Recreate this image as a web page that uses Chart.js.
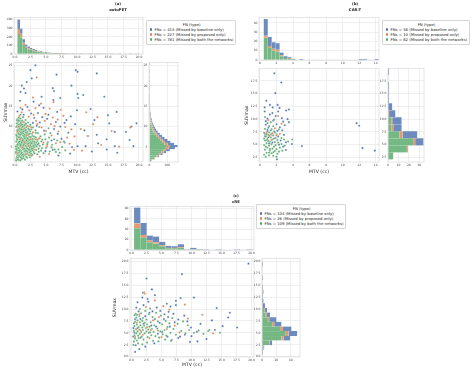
<!DOCTYPE html>
<html lang="en">
<head>
<meta charset="UTF-8">
<title>FN analysis</title>
<script src="https://cdn.jsdelivr.net/npm/chart.js"></script>
<style>
  body { margin: 0; background: #fff; width: 474px; height: 368px; overflow: hidden; position: relative; font-family: "DejaVu Sans", sans-serif; }
  canvas { position: absolute; }
  .ttl { position: absolute; transform: translateX(-50%); font-size: 3.8px; font-weight: bold; color: #222; text-align: center; line-height: 5.5px; white-space: nowrap; }
  .legend { position: absolute; background: #fff; border: 0.5px solid #d6d6d6; border-radius: 1px; font-size: 3.8px; line-height: 5px; color: #222; padding: 1px 2px 1.5px 3px; white-space: nowrap; }
  .legend .lt { text-align: center; }
  .legend .dot { display: inline-block; width: 2.4px; height: 2.4px; border-radius: 50%; margin-right: 2.2px; vertical-align: 0.3px; }
</style>
</head>
<body>
<script>
  // ---- data ----
  const legendA = ['FNs = 413 (Missed by baseline only)', 'FNs = 227 (Missed by proposed only)', 'FNs = 781 (Missed by both the networks)'];
  const legendB = ['FNs = 56 (Missed by baseline only)', 'FNs = 10 (Missed by proposed only)', 'FNs = 62 (Missed by both the networks)'];
  const legendC = ['FNs = 104 (Missed by baseline only)', 'FNs = 26 (Missed by proposed only)', 'FNs = 109 (Missed by both the networks)'];

  // tick labels
  const aXTicks = [0, 2.5, 5, 7.5, 10, 12.5, 15, 17.5, 20];
  const aYTicks = [5, 10, 15, 20, 25];
  const aTopTicks = [0, 100, 200, 300, 400];
  const aSideTicks = [0, 100];
  const bXTicks = [0, 2, 4, 6, 8, 10, 12, 14];
  const bYTicks = [2.5, 5, 7.5, 10, 12.5, 15, 17.5];
  const bTopTicks = [0, 10, 20, 30, 40];
  const bSideTicks = [0, 10, 20, 30];
  const cXTicks = [0, 2.5, 5, 7.5, 10, 12.5, 15, 17.5, 20];
  const cYTicks = [0, 2.5, 5, 7.5, 10, 12.5, 15, 17.5, 20];
  const cTopTicks = [0, 20, 40, 60, 80];
  const cSideTicks = [0, 20, 40];

  // (a) autoPET: histogram counts (stack order green, orange, blue)
  const aTopStart = 0.4, aTopWidth = 0.4;
  const aTopGreen = [230,190,105,70,55,45,35,28,24,19, 15,12,9,7,5,4,3,2,1,1];
  const aTopOrange = [60,45,25,15,12,10,8,7,6,5, 4,3,3,2,2,1,1,1,1,0, 1,0,1,0,0,1,0,0,0,1, 0,0,1,0,0,0,1,0,0,0, 0,0,0,0,0,1,0,0,0,0];
  const aTopBlue = [110,60,40,25,20,15,13,10,8,7, 6,5,4,3,3,2,2,2,1,1, 1,1,1,1,1,1,1,1,1,1, 1,1,1,1,1,1,0,1,1,0, 1,1,0,1,0,1,0,1,1,0];
  const aSideStart = 1.5, aSideWidth = 0.5;
  const aSideGreen = [8,25,40,55,68,80,92,98,85,72, 60,48,38,30,22,16,12,9,6,4, 3,2,1,1,0];
  const aSideOrange = [1,4,7,9,11,13,16,18,17,15, 14,13,12,11,10,9,8,7,6,5, 4,3,3,2,2, 1,1,1,0,1, 0,0,0,0,1, 0,0,0,0,1];
  const aSideBlue = [1,3,6,10,15,22,36,44,38,32, 28,24,20,17,14,12,10,8,7,6, 5,4,3,3,2, 2,2,1,1,1, 1,1,1,2,0, 1,1,0,1,1, 0,1,0,1,1, 0,0,1,1];

  const aGreen = [[0.2,2.1],[0.3,2.6],[0.5,2.3],[0.4,3.0],[0.2,3.4],[0.6,3.1],[0.8,2.7],[0.3,3.9],[0.5,4.2],[0.7,3.7],
    [0.9,3.3],[1.1,2.9],[0.2,4.6],[0.4,5.0],[0.6,4.7],[0.8,4.3],[1.0,4.0],[1.2,3.6],[1.4,3.2],[0.3,5.5],
    [0.5,5.9],[0.7,5.4],[0.9,5.1],[1.1,4.7],[1.3,4.4],[1.5,4.0],[1.7,3.5],[0.2,6.3],[0.4,6.7],[0.6,6.2],
    [0.8,5.8],[1.0,5.6],[1.2,5.3],[1.4,5.0],[1.6,4.6],[1.8,4.2],[2.0,3.8],[0.3,7.2],[0.5,7.6],[0.7,7.0],
    [0.9,6.6],[1.1,6.3],[1.3,6.0],[1.5,5.7],[1.7,5.3],[1.9,5.0],[2.1,4.5],[2.3,4.1],[0.2,8.0],[0.4,8.5],
    [0.6,8.1],[0.8,7.7],[1.0,7.3],[1.2,7.0],[1.4,6.7],[1.6,6.4],[1.8,6.0],[2.0,5.6],[2.2,5.2],[2.4,4.8],
    [2.6,4.3],[0.3,9.0],[0.5,9.4],[0.7,8.9],[0.9,8.5],[1.1,8.1],[1.3,7.8],[1.5,7.4],[1.7,7.1],[1.9,6.8],
    [2.1,6.4],[2.3,6.0],[2.5,5.6],[2.7,5.1],[2.9,4.7],[0.2,9.9],[0.4,10.3],[0.6,9.8],[0.8,9.4],[1.0,9.0],
    [1.2,8.7],[1.4,8.3],[1.6,8.0],[1.8,7.6],[2.0,7.3],[2.2,6.9],[2.4,6.6],[2.6,6.2],[2.8,5.8],[3.0,5.4],
    [3.2,5.0],[0.3,10.8],[0.5,11.2],[0.7,10.6],[0.9,10.2],[1.1,9.7],[1.3,9.3],[1.5,8.9],[1.7,8.6],[1.9,8.2],
    [2.1,7.9],[2.3,7.5],[2.5,7.2],[2.7,6.8],[2.9,6.4],[3.1,6.0],[3.3,5.6],[3.5,5.2],[0.4,11.8],[0.6,12.2],
    [0.8,11.4],[1.0,11.0],[1.2,10.5],[1.4,10.1],[1.6,9.6],[1.8,9.2],[2.0,8.8],[2.4,8.3],[2.8,7.7],[3.2,7.0],
    [3.6,6.5],[3.8,5.9],[4.0,5.3],[3.4,4.3],[3.0,3.8],[2.6,3.4],[2.2,3.0],[1.8,2.6],[1.4,2.3],[1.0,2.0],
    [0.6,1.8],[3.8,4.6],[4.2,4.1],[4.5,5.6],[4.4,6.8],[4.1,7.6],[3.7,8.4],[3.3,9.1],[2.9,9.8],[2.5,10.4],
    [2.1,11.0],[1.7,11.6],[1.3,12.3],[0.9,12.9],[5.0,4.8],[5.3,6.2],[5.6,3.9],[6.0,5.5],[6.4,4.4],[4.8,8.1],
    [5.5,7.3],[6.8,6.6],[7.2,3.6],[7.6,5.0],[8.1,4.2],[3.6,3.2],[4.6,3.5],[2.4,2.5],[1.6,1.9],[0.2,1.7],
    [0.35,2.35],[0.65,2.85],[0.95,2.45],[1.25,3.15],[0.15,3.75],[0.45,3.45],[0.75,4.05],[1.05,3.55],[1.35,2.75],[1.65,3.05],
    [0.25,4.35],[0.55,4.75],[0.85,5.45],[1.15,5.05],[1.45,4.55],[1.75,4.05],[2.05,3.35],[2.35,3.65],[0.15,5.15],[0.45,5.65],
    [0.75,6.35],[1.05,6.05],[1.35,5.45],[1.65,5.95],[1.95,4.65],[2.25,4.35],[2.55,3.95],[2.85,4.25],[0.35,6.85],[0.65,7.35],
    [0.95,7.05],[1.25,6.65],[1.55,7.15],[1.85,6.55],[2.15,5.85],[2.45,5.35],[2.75,4.65],[3.05,4.95],[0.25,7.75],[0.55,8.35],
    [0.85,8.05],[1.15,8.45],[1.45,7.65],[1.75,7.85],[2.05,7.15],[2.35,6.75],[2.65,5.95],[2.95,5.25],[3.25,5.55],[0.45,9.15],
    [0.75,9.65],[1.05,9.35],[1.35,8.85],[1.65,9.15],[1.95,8.45],[2.25,8.15],[2.55,7.45],[2.85,6.95],[3.15,6.35],[3.45,6.05],
    [0.35,10.05],[0.65,10.45],[0.95,10.85],[1.25,9.95],[1.55,10.35],[1.85,9.85],[2.15,9.45],[2.45,8.85],[2.75,8.25],[3.05,7.55],
    [3.35,7.35],[3.65,6.85],[0.55,11.55],[0.85,11.95],[1.15,11.45],[1.45,11.05],[1.75,10.75],[2.25,10.05],[2.65,9.35],[3.35,8.45],
    [3.95,7.15],[4.25,6.35],[4.35,4.75],[3.85,3.85],[3.15,3.45],[2.45,2.95],[1.95,2.35],[1.15,2.15],[0.45,1.95],[0.85,1.75],
    [5.2,5.7],[5.9,4.9],[6.3,6.9],[5.7,8.4],[7.0,4.4],[7.9,6.3],[6.6,3.8],[4.9,6.9],[5.4,9.6],[3.9,9.9]];
  const aOrange = [[0.5,3.6],[1.2,4.9],[1.9,3.3],[2.5,6.9],[0.8,6.9],[3.1,4.4],[1.5,9.6],[2.9,8.6],[3.9,7.1],[4.6,6.1],
    [5.2,5.2],[5.9,7.8],[6.6,5.9],[7.0,8.8],[4.3,9.8],[3.4,11.4],[2.2,12.4],[1.1,13.5],[0.6,10.0],[2.0,10.2],
    [5.8,10.6],[6.9,11.7],[8.4,7.3],[9.1,9.3],[7.8,12.6],[4.9,13.1],[3.3,14.5],[1.7,15.3],[10.6,9.4],[11.8,7.7],
    [12.6,10.6],[13.9,5.5],[15.6,8.9],[16.8,5.1],[9.5,4.3],[10.8,4.1],[3.5,22.0],[2.9,17.1],[6.2,16.0],[0.9,14.6],
    [8.8,5.8],[5.5,3.3],[4.0,2.6],[2.7,2.9],[13.3,12.3],[18.6,9.8],[7.4,14.1],[11.5,13.5],
    [1.6,6.2],[0.4,8.8],[2.6,9.8],[3.6,10.6],[4.8,11.4],[6.1,12.2],[5.0,8.9],[6.4,10.1],[7.3,6.2],[8.1,9.9],
    [9.6,7.6],[3.0,12.9],[1.3,11.1],[2.3,14.0],[4.2,15.6],[5.6,14.4],[0.7,12.6],[1.9,7.9],[3.4,6.9],[2.2,5.4]];
  const aBlue = [[3.3,25.0],[2.5,23.8],[2.7,21.8],[1.1,20.0],[1.45,19.3],[0.9,18.5],[1.7,18.2],[9.8,23.8],[10.1,23.4],[13.2,23.0],
    [6.7,22.7],[6.1,19.4],[6.3,18.7],[9.1,20.0],[10.1,18.0],[11.0,17.7],[10.2,17.0],[14.4,17.3],[6.2,16.5],[7.3,17.0],
    [4.3,17.3],[16.4,13.6],[15.0,12.8],[10.0,14.0],[12.8,11.6],[15.2,10.8],[19.6,10.8],[18.8,10.0],[17.9,8.7],[16.1,8.7],
    [14.8,6.9],[13.2,8.0],[13.4,5.9],[14.8,4.4],[19.1,5.2],[16.1,5.2],[18.5,6.7],[11.2,9.1],[11.7,7.7],[10.1,5.2],
    [11.4,5.2],[9.2,5.0],[8.6,8.5],[7.3,10.0],[2.0,14.8],[0.4,13.7],[1.4,12.9],[2.6,13.2],[3.1,12.1],[4.0,11.0],
    [0.3,11.6],[1.0,10.4],[2.3,9.2],[3.5,10.2],[4.7,9.0],[5.2,11.9],[6.3,9.4],[7.5,7.0],[8.0,10.9],[6.1,4.3],
    [0.8,16.3],[3.0,16.1],[1.9,20.9],[4.6,14.6],[9.0,12.5],[12.2,14.3],[0.5,2.4],[2.8,3.1],[4.9,4.0],[7.0,2.9],
    [8.9,3.4],[12.4,3.9],[16.5,3.6],[1.3,6.3],[2.1,4.3],[3.7,5.6],
    [1.2,14.2],[3.7,13.3],[5.4,12.9],[6.8,13.6],[4.4,12.3],[8.3,11.6],[9.7,10.6],[5.9,6.6],[6.9,8.2],[8.0,6.1],
    [2.9,10.9],[0.6,9.2],[1.7,10.5],[3.9,15.2],[6.6,11.1]];

  // (b) CAR-T
  const bTopStart = 0.45, bTopWidth = 0.48;
  const bTopGreen = [24,13,10,9,4,2,1,0,0,0];
  const bTopOrange = [2,2,2,2,1,0,1,0,0,0];
  const bTopBlue = [18,10,7,7,3,2,1,1,0,1, 0,0,0,0,0, 0,0,0,0,0, 0,0,0,0,1, 1,0,0,1];
  const bSideStart = 2.1, bSideWidth = 1.378;
  const bSideGreen = [5,18,24,11,3,3,0,0,0,0,0,0,0];
  const bSideOrange = [0,1,2,3,2,1,1,0,0,0,0,0,0];
  const bSideBlue = [0,0,8,14,8,9,6,4,1,1,1,0,1];

  const bGreen = [[0.5,3.0],[0.8,3.4],[1.1,2.9],[1.4,3.3],[0.6,4.0],[0.9,4.4],[1.2,3.8],[1.5,4.2],[1.8,3.7],[2.1,3.2],
    [0.5,4.9],[0.8,5.3],[1.1,4.8],[1.4,5.1],[1.7,4.6],[2.0,4.1],[2.3,3.6],[0.6,5.8],[0.9,6.1],[1.2,5.6],
    [1.5,6.0],[1.8,5.5],[2.1,5.9],[2.4,4.4],[0.7,6.6],[1.0,6.9],[1.3,6.4],[1.6,6.8],[1.9,6.3],[2.2,5.4],
    [0.5,7.3],[0.8,7.0],[1.1,7.4],[1.4,7.1],[1.7,7.6],[2.0,7.0],[2.6,6.3],[0.6,8.1],[1.0,8.3],[1.3,7.8],
    [1.6,8.6],[0.9,9.2],[1.3,9.4],[2.3,8.0],[0.7,2.6],[1.6,2.8],[2.7,3.8],[3.0,4.8],[2.6,5.1],[0.5,6.2],
    [1.2,4.1],[0.7,4.6],[1.9,4.9],[1.0,5.7],[2.0,2.6],[3.4,5.6],[3.9,6.0],[1.7,9.9],[0.6,10.4],[2.9,6.0],
    [1.1,3.4],[1.6,3.5]];
  const bOrange = [[1.5,7.2],[2.0,6.8],[1.2,6.7],[2.4,7.1],[0.8,7.3],[1.8,8.2],[1.0,9.8],[2.6,9.1],[1.4,5.9],[2.2,10.6]];
  const bBlue = [[1.73,19.0],[2.57,17.2],[1.85,15.1],[0.76,13.6],[0.57,12.3],[1.53,12.3],[2.13,12.8],[2.37,12.2],[3.17,11.7],[3.5,11.9],
    [0.57,11.5],[3.34,10.0],[3.5,9.4],[2.65,10.2],[1.2,10.9],[0.9,10.1],[1.6,9.7],[2.0,9.0],[1.1,8.6],[0.7,8.9],
    [2.4,8.4],[1.4,8.0],[0.9,7.6],[1.8,7.4],[2.7,7.8],[3.0,8.8],[0.6,7.1],[1.3,6.9],[2.2,6.6],[2.9,6.9],
    [1.0,6.4],[1.7,6.2],[0.8,5.9],[2.5,5.8],[3.14,5.45],[3.86,5.1],[5.07,4.7],[3.14,3.94],[11.7,9.2],[12.0,8.7],
    [12.4,4.3],[13.9,3.8],[1.5,11.2],[2.8,9.5],[0.7,9.6],[1.9,10.6],[2.2,11.5],[1.2,12.8],[0.9,7.9],[2.1,7.7],
    [1.5,5.4],[2.3,5.0],[0.6,6.6],[1.1,5.2],[2.05,2.1],[2.8,4.6]];

  // (c) cRE
  const cTopStart = 0.44, cTopWidth = 1.04;
  const cTopGreen = [42,24,15,12,7,3,3,4,0,1, 1,0,0,0,0,0,0,0,0,0];
  const cTopOrange = [9,5,3,3,2,1,1,1,0,1, 0,0,0,0,0,0,0,0,0,0];
  const cTopBlue = [31,23,10,11,7,4,3,6,1,2, 1,1,0,1,0,0,1,0,1,0];
  const cSideStart = 0.5, cSideWidth = 0.97;
  const cSideGreen = [0,2,10,27,33,25,14,8,5,3, 0,0,0,0,0,0,0,0,0,0,0];
  const cSideOrange = [0,0,1,3,4,4,3,2,2,1, 1,0,0,1,0,0,0,0,0,0,0];
  const cSideBlue = [1,1,3,9,12,12,10,10,4,3, 3,2,1,1,1,0,1,0,0,1,0];

  const cGreen = [[0.4,3.2],[0.6,3.8],[0.9,3.4],[1.2,3.9],[0.5,4.5],[0.8,4.9],[1.1,4.4],[1.4,4.8],[1.7,4.2],[0.4,5.4],
    [0.7,5.8],[1.0,5.3],[1.3,5.7],[1.6,5.2],[1.9,5.6],[2.2,4.9],[2.5,5.3],[0.5,6.4],[0.9,6.7],[1.2,6.2],
    [1.5,6.6],[1.8,6.1],[2.1,6.5],[2.4,6.0],[2.8,5.7],[3.1,5.1],[0.6,7.3],[1.0,7.6],[1.4,7.2],[1.8,7.5],
    [2.2,7.1],[2.6,6.8],[3.0,6.3],[3.4,5.8],[3.7,5.2],[0.8,8.2],[1.3,8.5],[1.9,8.1],[2.5,7.8],[3.2,7.2],
    [3.8,6.6],[4.3,5.9],[4.8,5.3],[5.2,4.7],[2.0,3.6],[2.7,4.1],[3.3,4.5],[4.0,4.3],[4.6,4.0],[5.5,5.6],
    [6.0,6.2],[5.8,4.4],[6.5,5.0],[7.0,5.8],[7.4,4.6],[4.4,7.4],[5.1,6.8],[5.7,7.5],[6.3,7.0],[3.5,8.3],
    [2.9,8.9],[1.6,9.1],[0.7,9.0],[4.1,9.2],[4.9,8.6],[6.8,8.1],[7.7,6.9],[8.3,5.4],[9.0,4.9],[9.6,5.6],
    [10.4,5.0],[11.2,5.5],[12.0,4.8],[12.8,5.4],[14.75,5.0],[13.0,5.6],[1.1,2.8],[1.8,2.6],[2.6,3.0],[3.6,3.3],
    [0.3,2.5],[5.6,3.6],[6.6,3.3],[8.6,7.4],[9.4,6.6],[1.4,10.0],[2.3,9.6],[3.1,10.1],[0.5,8.7],[4.5,3.2]];
  const cOrange = [[2.1,13.5],[2.2,13.2],[3.9,11.8],[5.3,10.6],[9.4,8.0],[13.6,4.9],[1.5,5.5],[2.6,6.2],[3.6,7.6],[4.4,5.5],
    [0.9,7.1],[5.9,5.8],[7.2,6.5],[1.3,8.9],[4.6,8.3],[3.0,3.9],[8.0,5.1],[0.6,4.1],[6.3,9.9],[2.4,10.4],
    [8.9,10.9],[11.8,8.8],[1.9,4.6],[3.2,5.6],[5.0,4.1],[0.8,5.8]];
  const cBlue = [[19.5,19.5],[2.5,16.4],[8.4,17.3],[1.0,11.4],[1.8,12.4],[7.4,11.7],[7.4,10.8],[8.2,12.3],[10.4,12.4],[6.5,10.5],
    [14.2,10.2],[16.4,9.2],[16.1,8.2],[17.6,6.1],[13.9,5.6],[10.9,5.2],[10.0,4.3],[9.75,3.1],[8.1,4.2],[6.7,3.5],
    [0.6,1.0],[0.3,4.2],[0.5,5.0],[0.3,6.0],[0.4,7.0],[0.6,7.9],[0.9,8.8],[1.2,9.5],[0.8,10.3],[2.0,10.8],
    [2.8,11.5],[3.5,9.5],[4.2,10.3],[4.8,9.6],[5.5,8.9],[6.2,9.4],[5.9,11.1],[3.9,12.9],[2.7,12.1],[1.5,7.9],
    [2.3,8.5],[3.0,9.2],[3.9,7.9],[4.7,7.1],[5.4,7.9],[6.1,8.3],[7.0,9.0],[7.8,7.8],[8.8,8.6],[9.3,7.4],
    [7.2,7.2],[6.4,6.3],[5.1,5.2],[4.1,6.3],[3.3,6.5],[2.0,6.9],[1.0,6.0],[2.9,5.0],[4.4,4.8],[6.0,4.2],
    [7.8,3.9],[8.9,4.6],[9.9,6.1],[11.5,6.9],[12.5,3.7],[11.0,3.2],[13.4,7.6],[15.2,6.4],[1.5,4.0],[0.7,2.4],
    [2.3,2.1],[3.8,2.8],[1.9,13.4],[3.4,14.1],[1.3,1.6]];

  // ---- drawing ----
  const BLUE = '#4c72b0', ORANGE = '#dd8452', GREEN = '#55a868';
  const BAR = { blue: 'rgba(76,114,176,0.82)', orange: 'rgba(221,132,82,0.82)', green: 'rgba(85,168,104,0.82)' };
  const PAD = 3;
  const FONT = 'DejaVu Sans';

  const frame = {
    id: 'frame',
    afterDraw(chart) {
      const a = chart.chartArea, ctx = chart.ctx;
      ctx.save();
      ctx.strokeStyle = '#d4d4d4';
      ctx.lineWidth = 0.6;
      ctx.strokeRect(a.left, a.top, a.right - a.left, a.bottom - a.top);
      ctx.restore();
    }
  };

  function axis(min, max, ticks, dec, title) {
    return {
      type: 'linear', min: min, max: max, offset: false,
      afterBuildTicks: s => { s.ticks = ticks.map(v => ({ value: v })); },
      ticks: { font: { family: FONT, size: 3 }, color: '#444', padding: 1.5, maxRotation: 0, autoSkip: false,
        callback: v => Number(v).toFixed(dec) },
      grid: { color: '#e4e4e4', lineWidth: 0.6, drawTicks: false, offset: false },
      border: { display: false },
      title: title ? { display: true, text: title, font: { family: FONT, size: 4.6 }, color: '#222', padding: 0 } : { display: false }
    };
  }

  function pts(list, color) {
    return { data: list.map(([x, y]) => ({ x: x, y: y })), backgroundColor: color, borderColor: '#fff',
      borderWidth: 0.3, pointRadius: 1.1 };
  }

  function bins(counts, start, width, color, horiz) {
    return {
      data: counts.map((v, k) => {
        const c = start + width * (k + 0.5);
        return horiz ? { x: v, y: c } : { x: c, y: v };
      }),
      backgroundColor: color, borderColor: 'rgba(255,255,255,0.6)', borderWidth: 0.25,
      barPercentage: 1, categoryPercentage: 1
    };
  }

  function chart(box, type, datasets, xAxis, yAxis, horiz) {
    const cv = document.createElement('canvas');
    cv.width = box.w + box.padL + 2 * PAD;
    cv.height = box.h + box.padB + 2 * PAD;
    cv.style.left = (box.x - box.padL - PAD) + 'px';
    cv.style.top = (box.y - PAD) + 'px';
    document.body.appendChild(cv);
    xAxis.afterFit = s => { s.height = box.padB; };
    yAxis.afterFit = s => { s.width = box.padL; };
    if (type === 'bar') { xAxis.stacked = true; yAxis.stacked = true; }
    return new Chart(cv, {
      type: type,
      data: { datasets: datasets },
      options: {
        responsive: false, animation: false, devicePixelRatio: 1,
        indexAxis: horiz ? 'y' : 'x',
        layout: { padding: PAD, autoPadding: false },
        plugins: { legend: { display: false }, tooltip: { enabled: false } },
        scales: { x: xAxis, y: yAxis }
      },
      plugins: [frame]
    });
  }

  function text(cls, left, top, html) {
    const d = document.createElement('div');
    d.className = cls;
    d.style.left = left + 'px';
    d.style.top = top + 'px';
    d.innerHTML = html;
    document.body.appendChild(d);
  }

  function legend(left, top, lines) {
    const cols = [BLUE, ORANGE, GREEN];
    let html = '<div class="lt">FN (type)</div>';
    lines.forEach((t, i) => { html += '<div><span class="dot" style="background:' + cols[i] + '"></span>' + t + '</div>'; });
    text('legend', left, top, html);
  }

  function panel(p) {
    chart(p.top, 'bar', [bins(p.topG, p.topStart, p.topW, BAR.green), bins(p.topO, p.topStart, p.topW, BAR.orange), bins(p.topB, p.topStart, p.topW, BAR.blue)],
      axis(p.xMin, p.xMax, p.xTicks, p.xDec), axis(0, p.topMax, p.topTicks, 0), false);
    chart(p.sc, 'scatter', [pts(p.ptsO, ORANGE), pts(p.ptsG, GREEN), pts(p.ptsB, BLUE)],
      axis(p.xMin, p.xMax, p.xTicks, p.xDec, 'MTV (cc)'), axis(p.yMin, p.yMax, p.yTicks, p.yDec, 'SUVmax'), false);
    chart(p.side, 'bar', [bins(p.sideG, p.sideStart, p.sideW, BAR.green, true), bins(p.sideO, p.sideStart, p.sideW, BAR.orange, true), bins(p.sideB, p.sideStart, p.sideW, BAR.blue, true)],
      axis(p.sideMin, p.sideMax, p.sideTicks, 0), axis(p.yMin, p.yMax, p.yTicks, p.yDec), true);
  }

  panel({
    top: { x: 14, y: 17, w: 129, h: 37, padL: 14, padB: 7 },
    sc: { x: 14, y: 62, w: 129, h: 100, padL: 11, padB: 13 },
    side: { x: 149, y: 62, w: 29, h: 100, padL: 9, padB: 7 },
    xMin: -0.16, xMax: 20.65, xTicks: aXTicks, xDec: 1,
    yMin: 1.34, yMax: 25.73, yTicks: aYTicks, yDec: 0,
    topMax: 426, topTicks: aTopTicks, topStart: aTopStart, topW: aTopWidth, topG: aTopGreen, topO: aTopOrange, topB: aTopBlue,
    sideMin: -3, sideMax: 162, sideTicks: aSideTicks, sideStart: aSideStart, sideW: aSideWidth, sideG: aSideGreen, sideO: aSideOrange, sideB: aSideBlue,
    ptsG: aGreen, ptsO: aOrange, ptsB: aBlue
  });
  panel({
    top: { x: 259, y: 17, w: 120, h: 43, padL: 14, padB: 7 },
    sc: { x: 259, y: 68, w: 120, h: 94, padL: 15, padB: 13 },
    side: { x: 388, y: 68, w: 36, h: 94, padL: 10, padB: 7 },
    xMin: -0.12, xMax: 14.4, xTicks: bXTicks, xDec: 0,
    yMin: 1.58, yMax: 19.99, yTicks: bYTicks, yDec: 1,
    topMax: 46, topTicks: bTopTicks, topStart: bTopStart, topW: bTopWidth, topG: bTopGreen, topO: bTopOrange, topB: bTopBlue,
    sideMin: 0, sideMax: 34.5, sideTicks: bSideTicks, sideStart: bSideStart, sideW: bSideWidth, sideG: bSideGreen, sideO: bSideOrange, sideB: bSideBlue,
    ptsG: bGreen, ptsO: bOrange, ptsB: bBlue
  });
  panel({
    top: { x: 130, y: 206, w: 124, h: 44, padL: 14, padB: 7 },
    sc: { x: 130, y: 258, w: 124, h: 99, padL: 18, padB: 11 },
    side: { x: 262, y: 258, w: 38, h: 99, padL: 10, padB: 7 },
    xMin: -0.25, xMax: 20.42, xTicks: cXTicks, xDec: 1,
    yMin: -0.06, yMax: 20.63, yTicks: cYTicks, yDec: 1,
    topMax: 84.4, topTicks: cTopTicks, topStart: cTopStart, topW: cTopWidth, topG: cTopGreen, topO: cTopOrange, topB: cTopBlue,
    sideMin: 0, sideMax: 53, sideTicks: cSideTicks, sideStart: cSideStart, sideW: cSideWidth, sideG: cSideGreen, sideO: cSideOrange, sideB: cSideBlue,
    ptsG: cGreen, ptsO: cOrange, ptsB: cBlue
  });

  text('ttl', 118, 1, '(a)<br>autoPET');
  text('ttl', 355, 1, '(b)<br>CAR-T');
  text('ttl', 236, 193, '(c)<br>cRE');

  legend(146, 20, legendA);
  legend(382, 20, legendB);
  legend(256, 204, legendC);
</script>
</body>
</html>
